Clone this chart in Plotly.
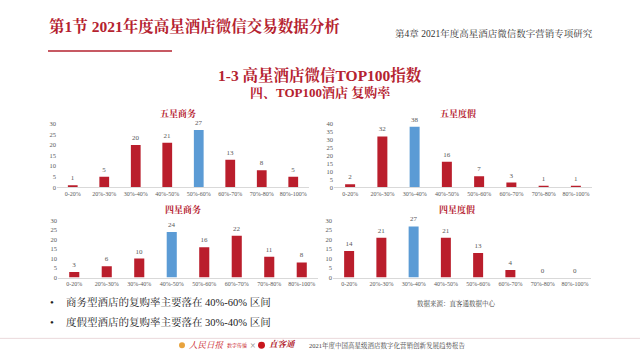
import plotly.graph_objects as go

categories = ["0-20%", "20%-30%", "30%-40%", "40%-50%", "50%-60%", "60%-70%", "70%-80%", "80%-100%"]
five_star_business = [1, 5, 20, 21, 27, 13, 8, 5]
five_star_leisure = [2, 32, 38, 16, 7, 3, 1, 1]
four_star_business = [3, 6, 10, 24, 16, 22, 11, 8]
four_star_leisure = [14, 21, 27, 21, 13, 4, 0, 0]
panel_titles = ["五星商务", "五星度假", "四星商务", "四星度假"]
y_max = [30, 40, 30, 30]

W, H = 640, 360
RED = "#BA1E2C"
BLUE = "#5B9BD5"
TITLE_RED = "#B5222F"
FONT = "Liberation Serif, Noto Serif CJK SC, Noto Sans CJK SC, serif"


def px(x):
    return x / W


def py(y):
    return 1 - y / H


# panel plot areas in pixels: (x0, x1, y_top, y_bottom)
panels = [
    (57, 309, 122, 187),
    (334, 592, 122, 187),
    (58, 318, 221, 279),
    (333, 591, 221, 279),
]
title_pos = [(178, 112), (458, 112), (183, 210), (457, 210)]
series = [five_star_business, five_star_leisure, four_star_business, four_star_leisure]

fig = go.Figure()
layout = dict(
    width=W, height=H, margin=dict(l=0, r=0, t=0, b=0),
    paper_bgcolor="white", plot_bgcolor="white", showlegend=False,
    font=dict(family=FONT, color="#595959"),
    bargap=0.69,
)
annotations = []
shapes = []

for i, (vals, (x0, x1, yt, yb)) in enumerate(zip(series, panels)):
    n = "" if i == 0 else str(i + 1)
    mx = max(vals)
    colors = [BLUE if v == mx else RED for v in vals]
    fig.add_trace(go.Bar(
        x=categories, y=vals, marker=dict(color=colors, line=dict(width=0)),
        text=[str(v) for v in vals], textposition="outside",
        textfont=dict(size=7, color="#595959", family=FONT),
        cliponaxis=False, xaxis="x" + n, yaxis="y" + n,
    ))
    layout["xaxis" + n] = dict(
        domain=[px(x0), px(x1)], anchor="y" + n, showgrid=False,
        showline=True, linecolor="#D9D9D9", linewidth=1, ticks="", tickangle=0,
        tickfont=dict(size=6, color="#595959", family=FONT), fixedrange=True,
    )
    layout["yaxis" + n] = dict(
        domain=[py(yb), py(yt)], anchor="x" + n, range=[0, y_max[i]],
        dtick=5, showgrid=False, zeroline=False, showline=False,
        tickfont=dict(size=6.5, color="#595959", family=FONT), fixedrange=True,
    )
    tx, ty = title_pos[i]
    annotations.append(dict(
        text="<b>" + panel_titles[i] + "</b>", x=px(tx), y=py(ty), xref="paper", yref="paper",
        showarrow=False, font=dict(size=9, color=TITLE_RED, family=FONT),
        xanchor="center", yanchor="middle",
    ))

# header texts
annotations += [
    dict(text="<b>第1节 2021年度高星酒店微信交易数据分析</b>", x=px(47), y=py(22), xanchor="left",
         yanchor="middle", font=dict(size=15.5, color=TITLE_RED, family=FONT)),
    dict(text="第4章 2021年度高星酒店微信数字营销专项研究", x=px(595), y=py(30), xanchor="right",
         yanchor="middle", font=dict(size=9.5, color="#333333", family=FONT)),
    dict(text="<b>1-3 高星酒店微信TOP100指数</b>", x=px(320), y=py(72), xanchor="center",
         yanchor="middle", font=dict(size=15.5, color=TITLE_RED, family=FONT)),
    dict(text="<b>四、TOP100酒店 复购率</b>", x=px(320), y=py(90), xanchor="center",
         yanchor="middle", font=dict(size=13, color=TITLE_RED, family=FONT)),
    dict(text="•", x=px(52), y=py(304), xanchor="center", yanchor="middle",
         font=dict(size=11, color="#222222", family=FONT)),
    dict(text="商务型酒店的复购率主要落在 40%-60% 区间", x=px(64), y=py(304), xanchor="left",
         yanchor="middle", font=dict(size=10.5, color="#222222", family=FONT)),
    dict(text="•", x=px(52), y=py(324), xanchor="center", yanchor="middle",
         font=dict(size=11, color="#222222", family=FONT)),
    dict(text="度假型酒店的复购率主要落在 30%-40% 区间", x=px(64), y=py(324), xanchor="left",
         yanchor="middle", font=dict(size=10.5, color="#222222", family=FONT)),
    dict(text="数据来源：直客通数据中心", x=px(456), y=py(305), xanchor="center", yanchor="middle",
         font=dict(size=6.5, color="#444444", family=FONT)),
    dict(text="2021年度中国高星级酒店数字化营销创新发展趋势报告", x=px(307), y=py(348), xanchor="left",
         yanchor="middle", font=dict(size=6.5, color="#444444", family=FONT)),
    dict(text="<i>人民日报</i>", x=px(187), y=py(348), xanchor="left", yanchor="middle",
         font=dict(size=8.5, color="#C8161D", family=FONT)),
    dict(text="数字传播", x=px(225), y=py(348), xanchor="left", yanchor="middle",
         font=dict(size=5, color="#C8161D", family=FONT)),
    dict(text="×", x=px(253), y=py(348), xanchor="center", yanchor="middle",
         font=dict(size=10, color="#888888", family=FONT)),
    dict(text="<b><i>直客通</i></b>", x=px(267), y=py(347), xanchor="left", yanchor="middle",
         font=dict(size=8.5, color="#B0171F", family=FONT)),
]
for a in annotations:
    a.setdefault("xref", "paper")
    a.setdefault("yref", "paper")
    a.setdefault("showarrow", False)

shapes += [
    dict(type="line", xref="paper", yref="paper", x0=px(48), x1=px(172), y0=py(48), y1=py(48),
         line=dict(color=TITLE_RED, width=1.5)),
    dict(type="line", xref="paper", yref="paper", x0=0, x1=1, y0=py(341), y1=py(341),
         line=dict(color="#EAD9DB", width=1)),
    dict(type="circle", xref="paper", yref="paper", x0=px(179), x1=px(185), y0=py(351), y1=py(345),
         fillcolor="#E8A33D", line=dict(width=0)),
    dict(type="circle", xref="paper", yref="paper", x0=px(258), x1=px(265), y0=py(351.5), y1=py(344.5),
         fillcolor="#C8161D", line=dict(width=0)),
]

layout["annotations"] = annotations
layout["shapes"] = shapes
fig.update_layout(**layout)
fig.write_html(
    "out.html",
    config={"displayModeBar": False},
    post_script="document.body.style.margin='0';document.body.style.overflow='hidden';",
)
